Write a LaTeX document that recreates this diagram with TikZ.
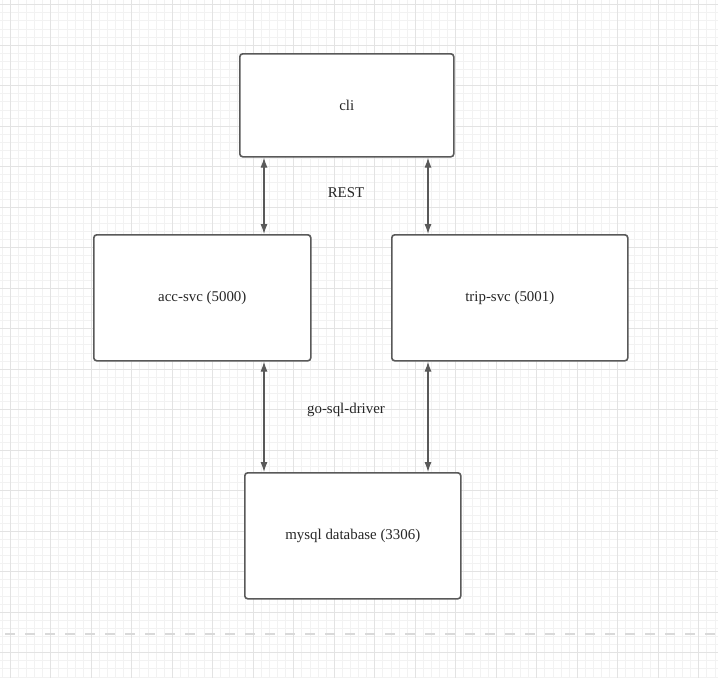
\documentclass[tikz,border=0pt]{standalone}
\usepackage{fontspec}
\setmainfont{Liberation Serif}
\usetikzlibrary{arrows.meta}
\begin{document}
\begin{tikzpicture}[x=1pt,y=-1pt,
  box/.style={draw=black!65,line width=1.6pt,rounded corners=3pt,fill=white,anchor=north west},
  txt/.style={font=\fontsize{14.9}{17}\selectfont,text=black!85},
  link/.style={draw=black!65,line width=1.1pt,{Latex[length=10pt,width=7pt]}-{Latex[length=10pt,width=7pt]}}]
\useasboundingbox (0,0) rectangle (718,678);
\fill[white] (0,0) rectangle (718,678);
\foreach \i in {0,...,90} {
  \draw[black!5,line width=0.6pt] ({2+\i*8.1},0) -- ++(0,678);
  \draw[black!5,line width=0.6pt] (0,{4.5+\i*8.1}) -- ++(718,0);
}
\foreach \i in {0,...,18} {
  \draw[black!11,line width=0.7pt] ({10+\i*40.5},0) -- ++(0,678);
  \draw[black!11,line width=0.7pt] (0,{4.5+\i*40.5}) -- ++(718,0);
}
\draw[black!15,line width=2.5pt,dash pattern=on 10pt off 10pt] (5,634) -- (718,634);
\node[box,minimum width=214pt,minimum height=103pt] (cli) at (239,53) {};
\node[txt] (clit) at (cli.center) {cli};
\node[box,minimum width=217pt,minimum height=126pt] (acc) at (93,234) {};
\node[txt] (acct) at (acc.center) {acc-svc (5000)};
\node[box,minimum width=236pt,minimum height=126pt] (trip) at (391,234) {};
\node[txt] (tript) at (trip.center) {trip-svc (5001)};
\node[box,minimum width=216pt,minimum height=126pt] (db) at (244,472) {};
\node[txt] (dbt) at (db.center) {mysql database (3306)};
\coordinate (xa) at (264,0);
\coordinate (xb) at (428,0);
\draw[link] (cli.south -| xa) -- (acc.north -| xa);
\draw[link] (cli.south -| xb) -- (trip.north -| xb);
\draw[link] (acc.south -| xa) -- (db.north -| xa);
\draw[link] (trip.south -| xb) -- (db.north -| xb);
\node[txt] (rest) at (346,193) {REST};
\node[txt] (gsd) at (346,410) {go-sql-driver};
\end{tikzpicture}
\end{document}
